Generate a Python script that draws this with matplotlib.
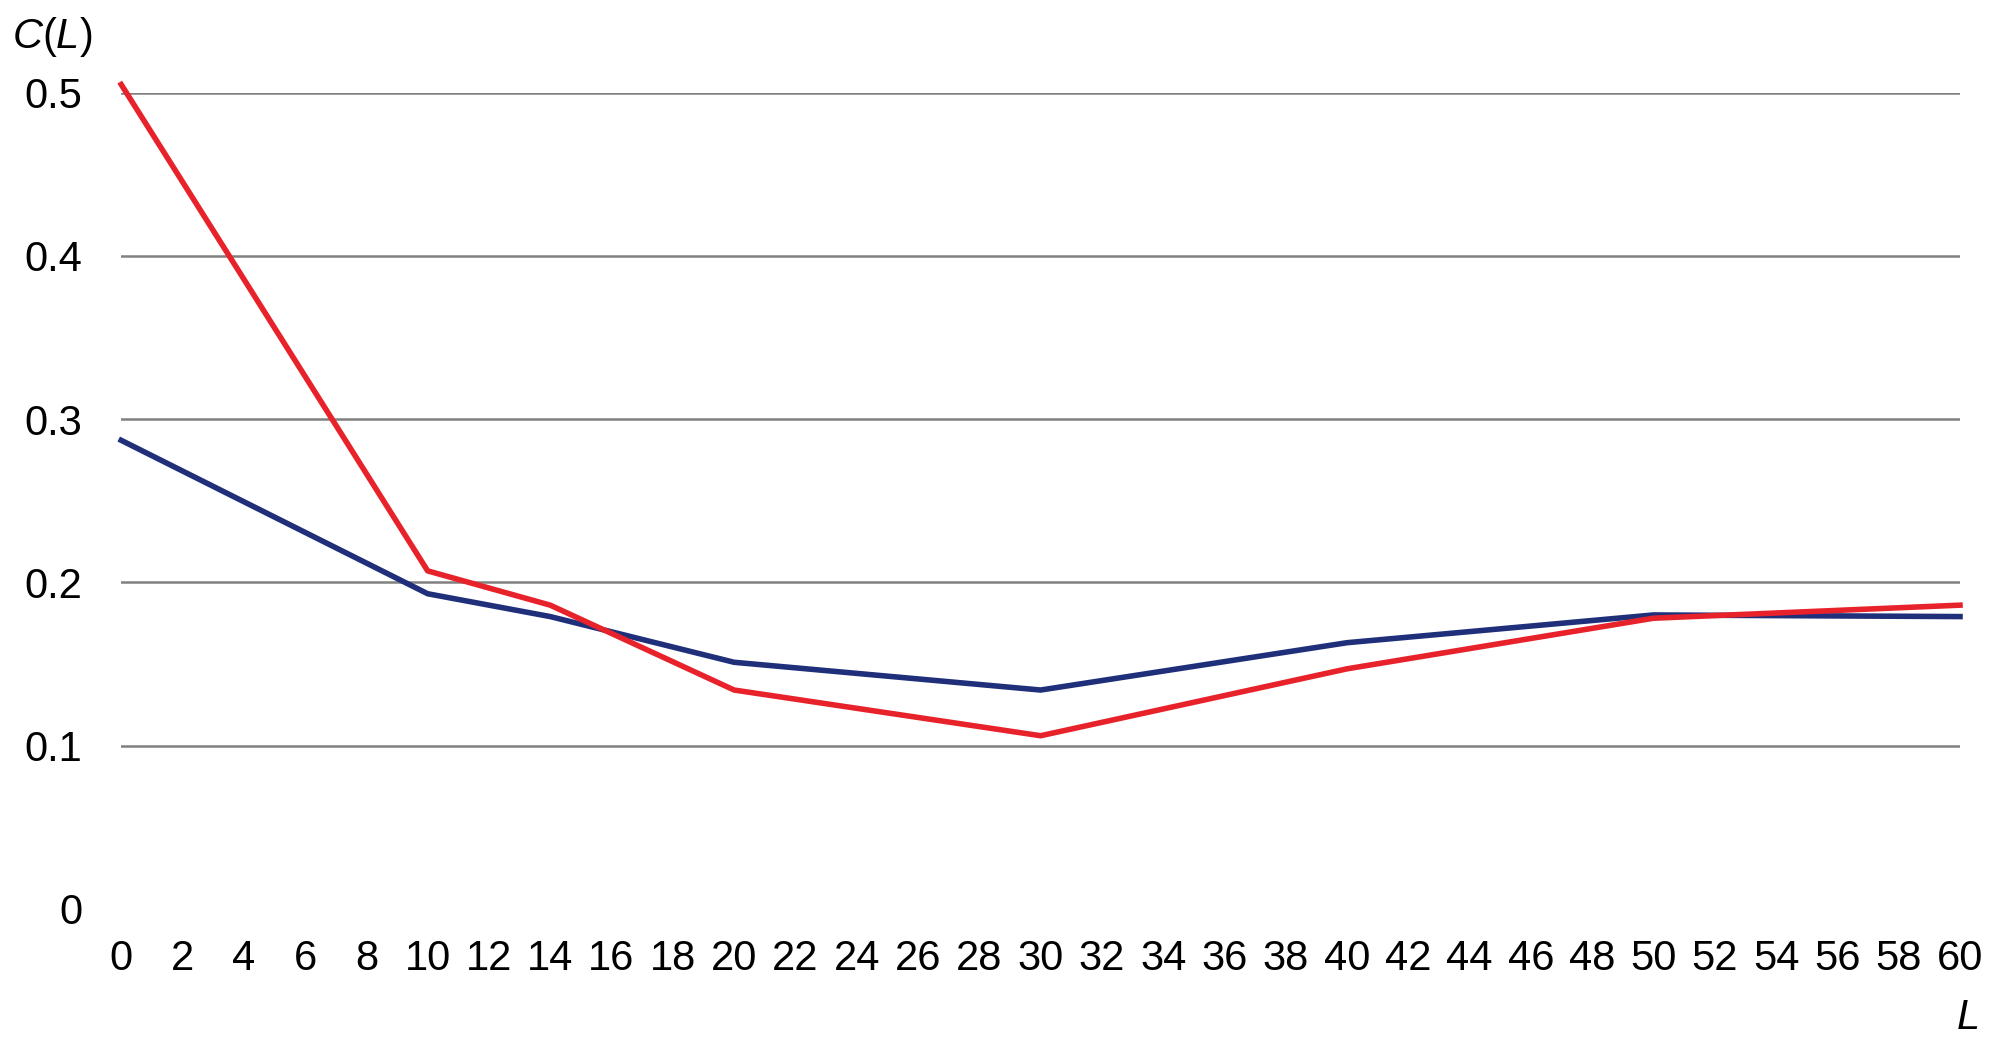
import matplotlib.pyplot as plt
import numpy as np

plt.rcParams['font.family'] = ['Liberation Sans', 'DejaVu Sans']
plt.rcParams['mathtext.fontset'] = 'custom'
plt.rcParams['mathtext.it'] = 'Liberation Sans:italic'
plt.rcParams['mathtext.rm'] = 'Liberation Sans'

L = [0, 10, 14, 20, 30, 40, 50, 60]
red = [0.505, 0.207, 0.186, 0.134, 0.106, 0.147, 0.178, 0.186]
blue = [0.287, 0.193, 0.179, 0.151, 0.134, 0.163, 0.180, 0.179]

fig = plt.figure(figsize=(20, 10.53), dpi=100)
ax = fig.add_axes([0.0606, 0.137, 0.9194, 0.775])

for yv in [0.1, 0.2, 0.3, 0.4, 0.5]:
    ax.axhline(yv, color='#808080', lw=1.8, zorder=1)

ax.plot(L, blue, color='#1f2f7a', lw=4, clip_on=False, zorder=3)
ax.plot(L, red, color='#e8222a', lw=4, clip_on=False, zorder=3)

ax.set_xlim(0, 60)
ax.set_ylim(0, 0.5)
ax.set_xticks(np.arange(0, 61, 2))
ax.set_yticks([0, 0.1, 0.2, 0.3, 0.4, 0.5])
ax.set_yticklabels(['0', '0.1', '0.2', '0.3', '0.4', '0.5'])
ax.tick_params(length=0, labelsize=30, pad=22)
ax.tick_params(axis='y', pad=28)
for s in ax.spines.values():
    s.set_visible(False)

fig.text(0.006, 0.965, r'$C$($L$)', fontsize=30, va='center', ha='left')
fig.text(0.99, 0.033, 'L', fontsize=30, style='italic', ha='right', va='center')

fig.savefig('out.png')
